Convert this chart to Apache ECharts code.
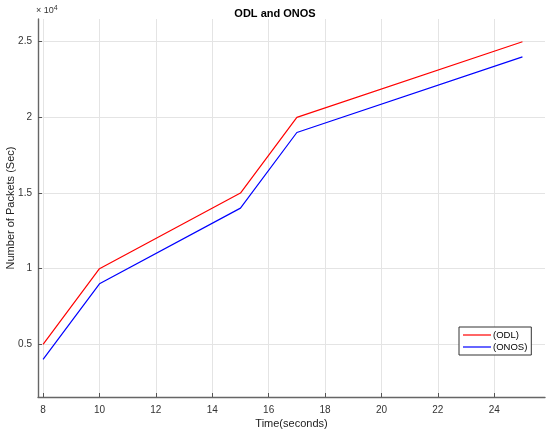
<!DOCTYPE html>
<html><head><meta charset="utf-8">
<script src="https://cdn.jsdelivr.net/npm/echarts@6/dist/echarts.min.js"></script>
<style>html,body{margin:0;padding:0;background:#fff}#c{width:550px;height:429px}</style>
</head><body><div id="c"></div>
<script>
const timeSec = [8, 10, 15, 17, 25];
const odl = [5000, 10000, 15000, 20000, 25000];
const onos = [4000, 9000, 14000, 19000, 24000];
const xTicks = [8, 10, 12, 14, 16, 18, 20, 22, 24];
const yTicks = [5000, 10000, 15000, 20000, 25000];

const chart = echarts.init(document.getElementById('c'));
const font = 'Helvetica, Arial, "Liberation Sans", sans-serif';
chart.setOption({
  animation: false,
  title: { text: 'ODL and ONOS', left: 'center', top: 3,
    textStyle: { fontFamily: font, fontSize: 11, fontWeight: 'bold', color: '#000' } },
  graphic: [{ type: 'text', left: 36, top: 5,
    style: { text: '\u00d7 10{s|4}', rich: { s: { fontSize: 7, verticalAlign: 'top', padding: [0,0,4,0] } },
      font: '9px ' + font, fill: '#333' } }],
  grid: { left: 38, right: 5, top: 19, bottom: 32, outerBoundsMode: 'none', containLabel: false },
  legend: {
    orient: 'vertical', left: 459, top: 327, width: 72,
    backgroundColor: '#fff', borderColor: '#333', borderWidth: 1,
    padding: [3, 4, 3, 4], itemGap: 2, itemWidth: 28, itemHeight: 8,
    icon: 'path://M0,3.5 L28,3.5 L28,5 L0,5 Z',
    textStyle: { fontFamily: font, fontSize: 9.5, color: '#000', padding: [0,0,0,-3] },
    data: [{ name: '(ODL)', itemStyle: { color: '#ff3333' } }, { name: '(ONOS)', itemStyle: { color: '#3333ff' } }]
  },
  xAxis: {
    type: 'value', min: 7.82, max: 25.8,
    name: 'Time(seconds)', nameLocation: 'middle', nameGap: 21, nameMoveOverlap: false,
    nameTextStyle: { fontFamily: font, fontSize: 11, color: '#222' },
    axisLine: { lineStyle: { color: '#666', width: 1.4 } },
    axisTick: { inside: true, length: 4, customValues: xTicks, lineStyle: { color: '#555' } },
    axisLabel: { customValues: xTicks, fontFamily: font, fontSize: 10, color: '#333', margin: 8 },
    splitLine: { show: true, lineStyle: { color: '#e4e4e4', width: 1 } }
  },
  yAxis: {
    type: 'value', min: 1520, max: 26500,
    name: 'Number of Packets (Sec)', nameLocation: 'middle', nameGap: 22, nameMoveOverlap: false,
    nameTextStyle: { fontFamily: font, fontSize: 11, color: '#222' },
    axisLine: { show: true, lineStyle: { color: '#666', width: 1.4 } },
    axisTick: { show: true, inside: true, length: 4, customValues: yTicks, lineStyle: { color: '#555' } },
    axisLabel: { customValues: yTicks, fontFamily: font, fontSize: 10, color: '#333', margin: 6,
      formatter: v => String(v / 10000) },
    splitLine: { show: true, lineStyle: { color: '#e4e4e4', width: 1 } }
  },
  series: [
    { name: '(ODL)', type: 'line', showSymbol: false, color: '#ff0000',
      lineStyle: { width: 1.2, color: '#ff0000' }, data: timeSec.map((t, i) => [t, odl[i]]) },
    { name: '(ONOS)', type: 'line', showSymbol: false, color: '#0000ff',
      lineStyle: { width: 1.2, color: '#0000ff' }, data: timeSec.map((t, i) => [t, onos[i]]) }
  ]
});
</script></body></html>
